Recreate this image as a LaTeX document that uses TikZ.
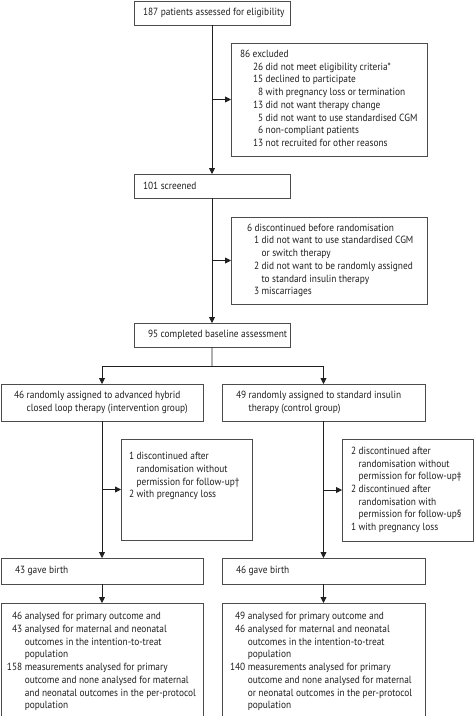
\documentclass[tikz,border=0pt]{standalone}
\usepackage{fontspec}
\setmainfont{PT Sans}[FakeStretch=0.9]
\usetikzlibrary{arrows.meta}
\newcommand\bxc[6]{\parbox[c][#2bp][#3]{#1bp}{\vspace*{#4bp}\hspace*{#5bp}#6\par}}
\tikzset{
  bx/.style={draw=black!70, line width=0.8bp, inner sep=0pt, outer sep=0pt, anchor=north west, text=black!88,
    font=\fontsize{10.4bp}{12.7bp}\selectfont},
  ln/.style={line width=0.8bp, draw=black!88},
  arr/.style={ln, -{Triangle[length=6bp,width=6bp]}}
}
\begin{document}
\begin{tikzpicture}[x=1bp,y=-1bp]
\useasboundingbox (0,0) rectangle (474,716);
\clip (0,0) rectangle (474,716);
\node[bx] (top) at (134,1) {\bxc{156}{24}{c}{0}{9}{187 patients assessed for eligibility}};
\node[bx] (excl) at (231,43) {\bxc{196}{113}{c}{0}{9}{\begin{tabular}[t]{@{\hspace{13bp}}r@{\ }l@{}}
\multicolumn{2}{@{}l@{}}{86 excluded}\\
26 & did not meet eligibility criteria*\\
15 & declined to participate\\
8 & with pregnancy loss or termination\\
13 & did not want therapy change\\
5 & did not want to use standardised CGM\\
6 & non-compliant patients\\
13 & not recruited for other reasons
\end{tabular}}};
\node[bx] (scr) at (134,174) {\bxc{156}{24}{c}{0}{9}{101 screened}};
\node[bx] (disc) at (231,217) {\bxc{196}{87}{c}{0}{16}{\begin{tabular}[t]{@{\hspace{7bp}}r@{\ }l@{}}
\multicolumn{2}{@{}l@{}}{6 discontinued before randomisation}\\
1 & did not want to use standardised CGM\\
  & or switch therapy\\
2 & did not want to be randomly assigned\\
  & to standard insulin therapy\\
3 & miscarriages
\end{tabular}}};
\node[bx] (comp) at (134,323) {\bxc{156}{24}{c}{0}{14}{95 completed baseline assessment}};
\node[bx] (asgL) at (1,384) {\bxc{202}{37}{c}{0}{13}{\begin{tabular}[t]{@{}r@{\ }l@{}}
46 & randomly assigned to advanced hybrid\\
   & closed loop therapy (intervention group)
\end{tabular}}};
\node[bx] (asgR) at (222,384) {\bxc{203}{37}{c}{0}{14}{\begin{tabular}[t]{@{}r@{\ }l@{}}
49 & randomly assigned to standard insulin\\
   & therapy (control group)
\end{tabular}}};
\node[bx] (sideL) at (121,439) {\bxc{131}{101}{t}{12}{8}{\begin{tabular}[t]{@{}r@{\ }l@{}}
1 & discontinued after\\
  & randomisation without\\
  & permission for follow-up†\\
2 & with pregnancy loss
\end{tabular}}};
\node[bx] (sideR) at (342,439) {\bxc{131}{102}{c}{0}{9}{\begin{tabular}[t]{@{}r@{\ }l@{}}
2 & discontinued after\\
  & randomisation without\\
  & permission for follow-up‡\\
2 & discontinued after\\
  & randomisation with\\
  & permission for follow-up§\\
1 & with pregnancy loss
\end{tabular}}};
\node[bx] (birthL) at (1,558) {\bxc{202}{26}{c}{0}{14}{43 gave birth}};
\node[bx] (birthR) at (222,558) {\bxc{203}{26}{c}{0}{14}{46 gave birth}};
\node[bx] (finL) at (1,603) {\bxc{202}{120}{t}{8}{6}{\begin{tabular}[t]{@{}r@{\ }l@{}}
46 & analysed for primary outcome and\\
43 & analysed for maternal and neonatal\\
   & outcomes in the intention-to-treat\\
   & population\\
158 & measurements analysed for primary\\
   & outcome and none analysed for maternal\\
   & and neonatal outcomes in the per-protocol\\
   & population
\end{tabular}}};
\node[bx] (finR) at (222,603) {\bxc{203}{120}{t}{8}{8}{\begin{tabular}[t]{@{}r@{\ }l@{}}
49 & analysed for primary outcome and\\
46 & analysed for maternal and neonatal\\
   & outcomes in the intention-to-treat\\
   & population\\
140 & measurements analysed for primary\\
   & outcome and none analysed for maternal\\
   & or neonatal outcomes in the per-protocol\\
   & population
\end{tabular}}};
\coordinate (split) at (212,366);
\draw[arr] (top.south) -- (scr.north);
\draw[arr] (top.south |- excl.west) -- (excl.west);
\draw[arr] (scr.south) -- (comp.north);
\draw[arr] (scr.south |- disc.west) -- (disc.west);
\draw[ln] (comp.south) -- (split);
\draw[arr] (split) -| (asgL.north);
\draw[arr] (split) -| (asgR.north);
\draw[arr] (asgL.south) -- (birthL.north);
\draw[arr] (asgL.south |- sideL.west) -- (sideL.west);
\draw[arr] (asgR.south) -- (birthR.north);
\draw[arr] (asgR.south |- sideR.west) -- (sideR.west);
\draw[arr] (birthL.south) -- (finL.north);
\draw[arr] (birthR.south) -- (finR.north);
\end{tikzpicture}
\end{document}
